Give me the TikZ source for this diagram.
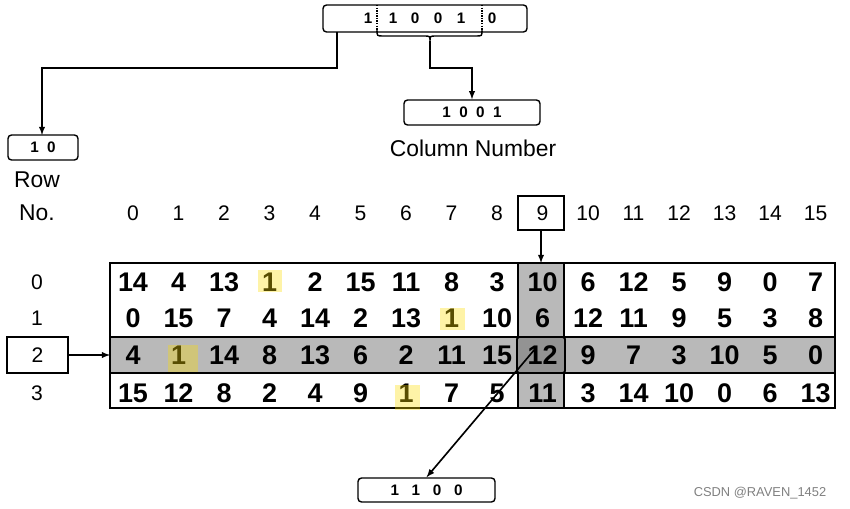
\documentclass[tikz,border=0pt]{standalone}
\usepackage{fontspec}
\setmainfont{Liberation Sans}
\begin{document}
\begin{tikzpicture}[x=0.03cm,y=-0.03cm,
  big/.style={font=\fontsize{23}{23}\selectfont\bfseries,inner sep=0},
  hdr/.style={font=\fontsize{18}{18}\selectfont,inner sep=0},
  lbl/.style={font=\fontsize{19.5}{19.5}\selectfont,inner sep=0},
  small/.style={font=\fontsize{13}{13}\selectfont\bfseries,inner sep=0},
  rbox/.style={draw,line width=1.2pt,rounded corners=3pt},
  conn/.style={line width=1.4pt},
  arr/.style={conn,-latex},
  hl/.style={fill=yellow!80!orange,opacity=0.35}]
\useasboundingbox (0,0) rectangle (850,508);
% bands
\fill[gray!55] (110,337) rectangle (835,373);
\fill[gray!55] (518,263) rectangle (564,408);
\draw[line width=1.2pt] (110,263) rectangle (835,408);
\draw[line width=1.2pt] (110,337) -- (835,337) (110,373) -- (835,373);
\draw[line width=1.2pt] (518,263) -- (518,408) (564,263) -- (564,408);
\node[draw,line width=1.6pt,rounded corners=2pt,fill=gray!85,minimum width=48*0.03cm,minimum height=36*0.03cm,inner sep=0] (cell) at (541,355) {};
% header
\foreach \c [count=\i from 0] in {0,...,15}{\node[hdr] (h\i) at ({133+45.5*\i},213) {\c};}
\node[draw,line width=1.4pt,minimum width=46*0.03cm,minimum height=34*0.03cm] (h9box) at (541,213) {};
\draw[arr] (h9box.south) -- (541,263);
% rows labels
\node[hdr] (r0) at (37,282) {0};
\node[hdr] (r1) at (37,318) {1};
\node[hdr] (r3) at (37,393) {3};
\node[draw,line width=1.4pt,minimum width=61*0.03cm,minimum height=36*0.03cm,hdr] (r2) at (37.5,355) {2};
\draw[arr] (r2.east) -- (110,355);
% data
\foreach \row/\y in {{14,4,13,1,2,15,11,8,3,10,6,12,5,9,0,7}/282,{0,15,7,4,14,2,13,1,10,6,12,11,9,5,3,8}/318,{4,1,14,8,13,6,2,11,15,12,9,7,3,10,5,0}/355,{15,12,8,2,4,9,1,7,5,11,3,14,10,0,6,13}/393}{
  \foreach \v [count=\i from 0] in \row {\node[big] at ({133+45.5*\i},\y) {\v};}}
% highlights
\fill[hl] (258,270) rectangle (282,292);
\fill[hl] (440,308) rectangle (465,330);
\fill[hl] (168,345) rectangle (198,372);
\fill[hl] (395,385) rectangle (420,410);
% top box
\node[rbox,minimum width=204*0.03cm,minimum height=27*0.03cm,inner sep=0] (top) at (425,18.5) {};
\foreach \v/\x in {1/368,1/393,0/415,0/438,1/461,0/492}{\node[small] at (\x,18.5) {\v};}
\draw[densely dotted,line width=1.2pt] (377,5) -- (377,32) (482,5) -- (482,32);
\draw[line width=1.2pt] (377,30) .. controls (377,36) .. (383,36) -- (424,36) .. controls (430,36) .. (430,41) .. controls (430,36) .. (436,36) -- (476,36) .. controls (482,36) .. (482,30);
\node[rbox,minimum width=136*0.03cm,minimum height=25*0.03cm,small] (col) at (472,112.5) {1\ \ 0\ \ 0\ \ 1};
\draw[conn] (430,41) -- (430,68) -- (472,68);
\draw[arr] (472,67) -- (col.north);
\node[lbl] (colnum) at (473,148) {Column Number};
\node[rbox,minimum width=70*0.03cm,minimum height=25*0.03cm,small] (rowb) at (43,147.5) {1\ \ 0};
\coordinate (tl) at (337,32);
\draw[conn] (tl) -- (337,68) -- (42,68);
\draw[arr] (42,67) -- (42,135);
\node[lbl] (row) at (37,180) {Row};
\node[lbl] (no) at (37,213) {No.};
% output
\node[rbox,minimum width=137*0.03cm,minimum height=24*0.03cm,small] (out) at (426.5,490) {1\ \ \ 1\ \ \ 0\ \ \ 0};
\draw[arr] (535,349) -- (out.north);
\node[font=\fontsize{11}{11}\selectfont,text=gray] at (760,493) {CSDN @RAVEN\_1452};
\end{tikzpicture}
\end{document}
